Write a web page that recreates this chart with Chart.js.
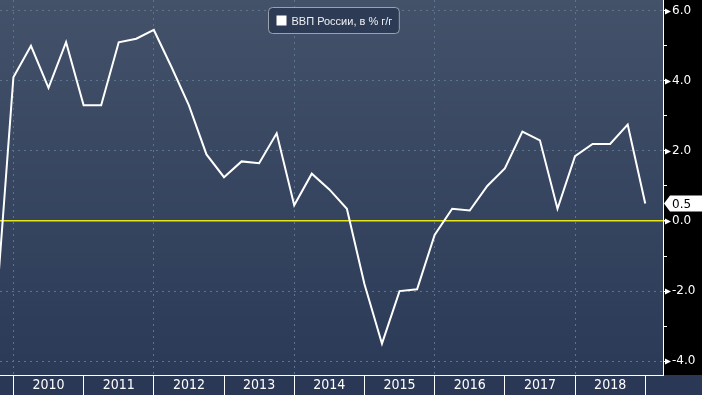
<!DOCTYPE html>
<html>
<head>
<meta charset="utf-8">
<script src="https://cdn.jsdelivr.net/npm/chart.js@4.4.1/dist/chart.umd.min.js"></script>
<style>
  html, body { margin: 0; padding: 0; background: #000; }
  canvas { display: block; }
</style>
</head>
<body>
<canvas id="gdp" width="702" height="395"></canvas>
<script>
  'use strict';

  // Quarters, 2009Q4 .. 2019Q1.
  var quarters = [
    '2009Q4',
    '2010Q1', '2010Q2', '2010Q3', '2010Q4',
    '2011Q1', '2011Q2', '2011Q3', '2011Q4',
    '2012Q1', '2012Q2', '2012Q3', '2012Q4',
    '2013Q1', '2013Q2', '2013Q3', '2013Q4',
    '2014Q1', '2014Q2', '2014Q3', '2014Q4',
    '2015Q1', '2015Q2', '2015Q3', '2015Q4',
    '2016Q1', '2016Q2', '2016Q3', '2016Q4',
    '2017Q1', '2017Q2', '2017Q3', '2017Q4',
    '2018Q1', '2018Q2', '2018Q3', '2018Q4',
    '2019Q1'
  ];

  // GDP of Russia, % y/y.
  var gdpYoY = [
    -2.6,
    4.1, 5.0, 3.8, 5.1,
    3.3, 3.3, 5.1, 5.2,
    5.45, 4.4, 3.3, 1.9,
    1.25, 1.7, 1.65, 2.5,
    0.45, 1.35, 0.9, 0.35,
    -1.8, -3.5, -2.0, -1.95,
    -0.4, 0.35, 0.3, 1.0,
    1.5, 2.55, 2.3, 0.35,
    1.85, 2.2, 2.2, 2.75,
    0.5
  ];

  var seriesLabel = 'ВВП России, в % г/г';
  var yearLabels = ['2010', '2011', '2012', '2013', '2014', '2015', '2016', '2017', '2018'];
  var yTicks = [-4, -3, -2, -1, 0, 1, 2, 3, 4, 5, 6];

  // Quarter string -> fractional year (Q1 sits on the year boundary).
  function quarterToX(q) {
    return parseInt(q.slice(0, 4), 10) + (parseInt(q.slice(5), 10) - 1) / 4;
  }

  var points = quarters.map(function (q, i) {
    return {x: quarterToX(q), y: gdpYoY[i]};
  });

  // Year boundaries and year middles for the bottom axis.
  var xTicks = [];
  yearLabels.forEach(function (y) {
    xTicks.push(+y);
    xTicks.push(+y + 0.5);
  });
  xTicks.push(+yearLabels[yearLabels.length - 1] + 1);

  var GRID = '#5d7491';

  var backdrop = {
    id: 'backdrop',
    beforeDraw: function (chart) {
      var c = chart.ctx, a = chart.chartArea;
      c.save();
      c.fillStyle = '#000';
      c.fillRect(0, 0, chart.width, chart.height);
      var g = c.createLinearGradient(0, a.top, 0, a.bottom);
      g.addColorStop(0, '#435169');
      g.addColorStop(1, '#2b3a57');
      c.fillStyle = g;
      c.fillRect(a.left, a.top, a.right - a.left, a.bottom - a.top);
      c.fillStyle = '#2a3856';
      c.fillRect(0, a.bottom, chart.width, chart.height - a.bottom);
      c.restore();
    },
    afterDraw: function (chart) {
      var c = chart.ctx, a = chart.chartArea;
      var ys = chart.scales.y;
      c.save();

      // Arrow heads on the major right-axis ticks.
      c.fillStyle = '#fff';
      yTicks.forEach(function (v) {
        if (v % 2 !== 0) return;
        var py = Math.round(ys.getPixelForValue(v)) + 0.5;
        c.beginPath();
        c.moveTo(a.right + 2, py - 3);
        c.lineTo(a.right + 8, py);
        c.lineTo(a.right + 2, py + 3);
        c.closePath();
        c.fill();
      });

      // Last value tag.
      var last = gdpYoY[gdpYoY.length - 1];
      var ly = ys.getPixelForValue(last);
      c.fillStyle = '#fff';
      c.beginPath();
      c.moveTo(a.right + 1, ly);
      c.lineTo(a.right + 7, ly - 8);
      c.lineTo(chart.width, ly - 8);
      c.lineTo(chart.width, ly + 8);
      c.lineTo(a.right + 7, ly + 8);
      c.closePath();
      c.fill();
      c.fillStyle = '#000';
      c.font = '12px "DejaVu Sans", sans-serif';
      c.textBaseline = 'middle';
      c.textAlign = 'left';
      c.fillText(last.toFixed(1), a.right + 9, ly + 1);

      // Legend box.
      c.font = '11px "Liberation Sans", sans-serif';
      var tw = c.measureText(seriesLabel).width;
      var bw = tw + 30, bh = 26;
      var bx = Math.round(333 - bw / 2) + 0.5, by = 7.5;
      c.beginPath();
      c.roundRect(bx, by, bw, bh, 4);
      c.fillStyle = '#2e3b55';
      c.fill();
      c.strokeStyle = '#9aa2b0';
      c.lineWidth = 1;
      c.stroke();
      c.fillStyle = '#fff';
      c.fillRect(bx + 8, by + 8, 10, 10);
      c.fillStyle = '#eef0f4';
      c.textBaseline = 'middle';
      c.fillText(seriesLabel, bx + 23, by + bh / 2 + 1);
      c.restore();
    }
  };

  new Chart(document.getElementById('gdp'), {
    type: 'line',
    data: {
      datasets: [{
        label: seriesLabel,
        data: points,
        borderColor: '#ffffff',
        borderWidth: 2,
        pointRadius: 0,
        tension: 0
      }]
    },
    options: {
      responsive: false,
      animation: false,
      devicePixelRatio: 1,
      layout: {padding: 0},
      plugins: {
        legend: {display: false},
        tooltip: {enabled: false}
      },
      scales: {
        x: {
          type: 'linear',
          position: 'bottom',
          min: 2009.809,
          max: 2019.253,
          afterBuildTicks: function (scale) {
            scale.ticks = xTicks.map(function (v) { return {value: v}; });
          },
          afterFit: function (scale) {
            scale.height = 20;
            scale.paddingLeft = 0;
            scale.paddingRight = 0;
          },
          ticks: {
            autoSkip: false,
            maxRotation: 0,
            padding: -18,
            color: '#ffffff',
            font: {family: '"Liberation Sans Narrow", "DejaVu Sans Condensed", sans-serif', size: 14},
            callback: function (value) {
              return value % 1 === 0.5 ? String(Math.floor(value)) : '';
            }
          },
          grid: {
            drawTicks: true,
            tickLength: 20,
            lineWidth: 1,
            color: function (ctx) {
              var v = ctx.tick && ctx.tick.value;
              return (v % 1 === 0 && (v - 2010) % 2 === 0) ? GRID : 'rgba(0,0,0,0)';
            },
            tickColor: function (ctx) {
              var v = ctx.tick && ctx.tick.value;
              return v % 1 === 0 ? '#ffffff' : 'rgba(0,0,0,0)';
            }
          },
          border: {display: true, color: '#ffffff', width: 1, dash: [2, 4]}
        },
        y: {
          type: 'linear',
          position: 'right',
          min: -4.394,
          max: 6.305,
          afterBuildTicks: function (scale) {
            scale.ticks = yTicks.map(function (v) { return {value: v}; });
          },
          afterFit: function (scale) {
            scale.width = 39;
            scale.paddingTop = 0;
            scale.paddingBottom = 0;
          },
          ticks: {
            padding: 5,
            color: '#ffffff',
            font: {family: '"DejaVu Sans", sans-serif', size: 12},
            callback: function (value) {
              return value % 2 === 0 ? value.toFixed(1) : '';
            }
          },
          grid: {
            drawTicks: true,
            tickLength: 4,
            color: function (ctx) {
              var v = ctx.tick && ctx.tick.value;
              if (v === 0) return '#e6e619';
              return v % 2 === 0 ? GRID : 'rgba(0,0,0,0)';
            },
            lineWidth: function (ctx) {
              return ctx.tick && ctx.tick.value === 0 ? 1.5 : 1;
            },
            tickColor: '#ffffff'
          },
          border: {
            display: true,
            color: '#ffffff',
            width: 1,
            dash: function (ctx) {
              return ctx.tick && ctx.tick.value === 0 ? [] : [2, 4];
            }
          }
        }
      }
    },
    plugins: [backdrop]
  });
</script>
</body>
</html>
